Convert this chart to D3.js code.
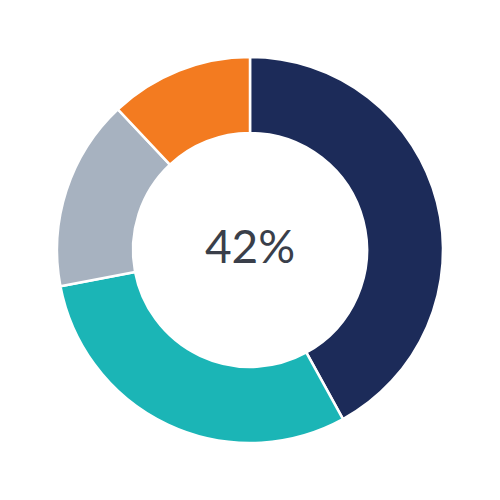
<!DOCTYPE html>
<html><head><meta charset="utf-8">
<script src="https://cdn.jsdelivr.net/npm/d3@7"></script>
<style>html,body{margin:0;padding:0;background:#fff;}</style>
</head><body>
<svg id="c" width="500" height="500"></svg>
<script>
const categories = ["A", "B", "C", "D"];
const values = [42, 30, 16, 12];
const colors = ["#1c2b59", "#1bb5b6", "#a7b2c0", "#f37b20"];
const centerLabel = "42%";

const svg = d3.select("#c");
const g = svg.append("g").attr("transform", "translate(250,250)");
const data = categories.map((c, i) => ({ c, v: values[i], col: colors[i] }));
const pie = d3.pie().value(d => d.v).sort(null);
const arc = d3.arc().innerRadius(117).outerRadius(193);
g.selectAll("path").data(pie(data)).enter().append("path")
  .attr("d", arc).attr("fill", d => d.data.col)
  .attr("stroke", "#fff").attr("stroke-width", 2.5);
g.append("text").attr("x", 0).attr("y", 13).attr("text-anchor", "middle")
  .attr("font-family", "Lato, 'Open Sans', sans-serif").attr("font-weight", 400)
  .attr("font-size", 46).attr("fill", "#3a3f4a").text(centerLabel);
</script>
</body></html>
